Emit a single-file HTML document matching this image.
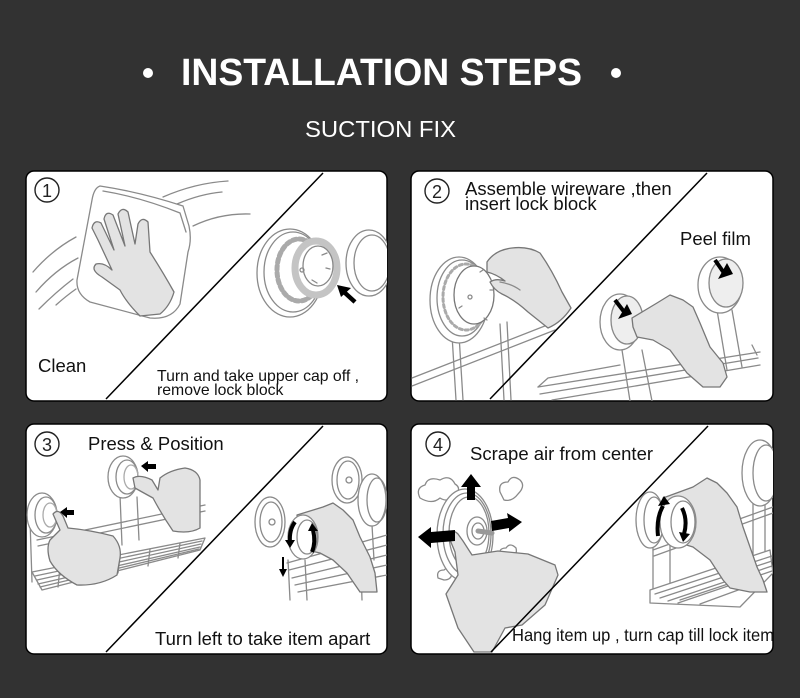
<!DOCTYPE html>
<html><head><meta charset="utf-8"><style>
html,body{margin:0;padding:0;background:#323232;}
svg{display:block}
</style></head><body>
<svg width="800" height="698" viewBox="0 0 800 698" xmlns="http://www.w3.org/2000/svg" font-family="'Liberation Sans', Arial, sans-serif">
<rect width="800" height="698" fill="#323232"/>
<circle cx="148" cy="73" r="5" fill="#fff"/>
<circle cx="616" cy="73" r="5" fill="#fff"/>
<text x="181" y="85" fill="#fff" font-size="38" font-weight="bold" textLength="401" lengthAdjust="spacingAndGlyphs">INSTALLATION STEPS</text>
<text x="305" y="137" fill="#fff" font-size="23" textLength="151" lengthAdjust="spacingAndGlyphs">SUCTION FIX</text>
<defs>
<clipPath id="c1"><rect x="26" y="171" width="361" height="230" rx="8"/></clipPath>
<clipPath id="c2"><rect x="411" y="171" width="362" height="230" rx="8"/></clipPath>
<clipPath id="c3"><rect x="26" y="424" width="361" height="230" rx="8"/></clipPath>
<clipPath id="c4"><rect x="411" y="424" width="362" height="230" rx="8"/></clipPath>
</defs>

<!-- Panels -->
<rect x="26" y="171" width="361" height="230" rx="8" fill="#fff" stroke="#000" stroke-width="1.5"/>
<rect x="411" y="171" width="362" height="230" rx="8" fill="#fff" stroke="#000" stroke-width="1.5"/>
<rect x="26" y="424" width="361" height="230" rx="8" fill="#fff" stroke="#000" stroke-width="1.5"/>
<rect x="411" y="424" width="362" height="230" rx="8" fill="#fff" stroke="#000" stroke-width="1.5"/>

<!-- ===== PANEL 1 ===== -->
<g clip-path="url(#c1)" fill="none" stroke="#8a8a8a" stroke-width="1.3" stroke-linecap="round" stroke-linejoin="round">
  <path d="M33 272 Q52 250 76 237"/>
  <path d="M36 292 Q55 270 78 258"/>
  <path d="M39 309 Q56 292 73 279"/>
  <path d="M56 305 Q66 296 76 289"/>
  <path d="M163 197 Q195 183 228 181"/>
  <path d="M177 204 Q200 194 222 192"/>
  <path d="M193 226 Q220 213 250 214"/>
  <!-- cloth -->
  <path d="M100 186 Q140 192 183 206 L189 226 Q192 240 188 252 L180 304 Q172 320 150 318 L90 302 Q76 294 77 280 L92 200 Q94 188 100 186 Z" fill="#fff"/>
  <path d="M103 191 Q140 197 180 213 L186 232"/>
  <!-- hand -->
  <path d="M92 228 Q94 219 101 223 L114 250 L104 219 Q106 210 113 215 L125 246 L118 214 Q122 206 128 212 L135 244 L138 224 Q142 216 148 222 L150 252 Q164 274 174 292 Q170 306 160 314 L140 316 Q126 302 120 290 L102 277 Q90 270 96 264 Q104 262 112 270 L98 240 Z" fill="#e3e3e3" stroke="#777"/>
  <!-- suction cup -->
  <ellipse cx="290" cy="273" rx="33" ry="44" fill="#fff"/>
  <ellipse cx="293" cy="272" rx="29" ry="40"/>
  <ellipse cx="299" cy="270" rx="22" ry="31" stroke="#aaa" stroke-width="5" stroke-dasharray="4 3"/>
  <ellipse cx="316" cy="268" rx="21" ry="27" fill="#fff" stroke="#c4c4c4" stroke-width="7"/>
  <ellipse cx="318" cy="266" rx="15" ry="20" fill="#fff" stroke="#888"/>
  <circle cx="302" cy="270" r="2"/>
  <path d="M322 255 l5 -2 M326 268 l4 1 M312 280 l5 3"/>
  <!-- cap -->
  <ellipse cx="369" cy="263" rx="23" ry="33" fill="#fff"/>
  <ellipse cx="372" cy="263" rx="18" ry="28"/>
</g>
<g clip-path="url(#c1)">
  <line x1="355" y1="302" x2="344" y2="292" stroke="#000" stroke-width="4.5"/>
  <polygon points="337,285 351,288 341,297" fill="#000"/>
  <line x1="323" y1="173" x2="106" y2="399" stroke="#000" stroke-width="1.5"/>
</g>
<circle cx="47" cy="190" r="12" fill="none" stroke="#222" stroke-width="1.4"/>
<text x="47" y="197" font-size="18" fill="#222" text-anchor="middle">1</text>
<text x="38" y="372" font-size="18.5" fill="#111">Clean</text>
<text x="157" y="381" font-size="15.8" fill="#111">Turn and take upper cap  off ,</text>
<text x="157" y="395" font-size="15.8" fill="#111">remove lock block</text>

<!-- ===== PANEL 2 ===== -->
<g clip-path="url(#c2)" fill="none" stroke="#8a8a8a" stroke-width="1.3" stroke-linecap="round" stroke-linejoin="round">
  <!-- left rack -->
  <path d="M412 378 L555 322 M412 386 L555 330"/>
  <path d="M452 335 L456 400 M459 335 L463 400 M500 324 L504 400 M507 322 L511 400"/>
  <!-- left cup -->
  <ellipse cx="459" cy="300" rx="29" ry="43" fill="#fff"/>
  <ellipse cx="462" cy="298" rx="25" ry="38"/>
  <ellipse cx="466" cy="297" rx="23" ry="33" stroke="#aaa" stroke-width="3" stroke-dasharray="3 3"/>
  <ellipse cx="474" cy="295" rx="20" ry="29" fill="#fff" stroke="#777"/>
  <circle cx="470" cy="297" r="2"/>
  <path d="M480 272 l3 -2 M490 290 l3 0 M484 318 l3 2 M462 306 l-3 2"/>
  <!-- left hand -->
  <path d="M487 262 Q495 250 512 248 Q528 246 540 253 Q552 270 562 292 L571 308 Q562 322 548 328 L528 312 Q515 300 502 294 Q494 290 490 282 Q496 278 505 281 Q496 274 487 272 Z" fill="#e3e3e3" stroke="#777"/>
  <path d="M500 282 Q512 284 520 290"/>
  <!-- right rack -->
  <path d="M538 387 L760 352 M540 394 L758 358"/>
  <path d="M552 400 L760 365"/>
  <path d="M538 387 L548 378 L620 365"/>
  <path d="M622 350 L630 401 M642 350 L652 401"/>
  <path d="M717 310 L727 370 M732 310 L742 367"/>
  <path d="M752 345 L757 355"/>
  <!-- right cups -->
  <ellipse cx="620" cy="322" rx="20" ry="28" fill="#fff"/>
  <ellipse cx="627" cy="320" rx="16" ry="24" fill="#eee" stroke="#888"/>
  <ellipse cx="720" cy="285" rx="22" ry="28" fill="#fff"/>
  <ellipse cx="726" cy="283" rx="17" ry="24" fill="#eee" stroke="#888"/>
  <!-- right hand -->
  <path d="M632 318 L657 303 L670 295 L683 300 L693 307 L700 323 L710 347 L723 363 L727 377 L720 387 L703 387 L687 373 L670 350 L653 340 L637 337 L633 327 Z" fill="#e3e3e3" stroke="#777"/>
</g>
<g clip-path="url(#c2)">
  <line x1="615" y1="300" x2="625" y2="313" stroke="#000" stroke-width="4"/>
  <polygon points="618,319 632,314 627,304" fill="#000"/>
  <line x1="715" y1="260" x2="724" y2="273" stroke="#000" stroke-width="4"/>
  <polygon points="718,279 733,274 727,263" fill="#000"/>
  <line x1="707" y1="173" x2="490" y2="399" stroke="#000" stroke-width="1.5"/>
</g>
<circle cx="437" cy="191" r="12" fill="none" stroke="#222" stroke-width="1.4"/>
<text x="437" y="198" font-size="18" fill="#222" text-anchor="middle">2</text>
<text x="465" y="195" font-size="18.5" fill="#111">Assemble wireware ,then</text>
<text x="465" y="210" font-size="18.5" fill="#111">insert lock block</text>
<text x="680" y="245" font-size="18.5" fill="#111">Peel film</text>

<!-- ===== PANEL 3 ===== -->
<g clip-path="url(#c3)" fill="none" stroke="#8a8a8a" stroke-width="1.3" stroke-linecap="round" stroke-linejoin="round">
  <!-- left rack -->
  <path d="M37 540 L205 505 M38 546 L205 511"/>
  <path d="M30 520 L32 582 M120 495 L122 545 M137 497 L139 540"/>
  <path d="M32 572 L205 538 L200 550 L42 590 Z" fill="#fff"/>
  <path d="M35 576 L202 541 M37 580 L201 544 M38 584 L200 547 M40 587 L199 549"/>
  <path d="M60 567 L58 587 M90 561 L88 580 M120 555 L118 573 M150 549 L148 566 M180 543 L178 558"/>
  <!-- cups -->
  <ellipse cx="123" cy="477" rx="15" ry="21" fill="#fff"/>
  <ellipse cx="127" cy="477" rx="11" ry="17"/>
  <ellipse cx="131" cy="477" rx="7" ry="12" stroke="#aaa"/>
  <ellipse cx="42" cy="515" rx="15" ry="22" fill="#fff"/>
  <ellipse cx="46" cy="515" rx="11" ry="18"/>
  <ellipse cx="50" cy="515" rx="7" ry="12" stroke="#aaa"/>
  <!-- upper hand -->
  <path d="M133 478 Q140 474 152 480 L158 490 L160 478 Q170 470 185 468 Q198 470 200 480 L200 528 Q190 534 173 531 Q162 515 153 498 Q142 492 135 488 Z" fill="#e3e3e3" stroke="#777"/>
  <!-- lower hand -->
  <path d="M53 514 Q58 508 63 516 L68 528 Q90 530 113 536 Q122 546 120 558 L117 575 Q100 586 77 585 Q58 575 50 561 Q46 548 50 540 Q56 534 60 530 Z" fill="#e3e3e3" stroke="#777"/>
  <!-- right side -->
  <ellipse cx="270" cy="522" rx="15" ry="25" fill="#fff"/>
  <ellipse cx="271" cy="522" rx="11" ry="20"/>
  <circle cx="272" cy="522" r="3"/>
  <ellipse cx="347" cy="480" rx="15" ry="23" fill="#fff"/>
  <ellipse cx="348" cy="480" rx="11" ry="19"/>
  <circle cx="349" cy="480" r="3"/>
  <path d="M287 563 L387 535 M289 570 L387 545 M292 578 L387 555 M295 585 L387 565 M298 592 L387 575"/>
  <path d="M288 560 L290 600 M305 560 L307 600 M360 540 L362 600 M372 525 L374 560"/>
  <ellipse cx="372" cy="500" rx="14" ry="26" fill="#fff"/>
  <ellipse cx="377" cy="500" rx="10" ry="22"/>
  <path d="M297 515 L323 507 L333 503 L343 510 L353 520 L360 537 L370 557 L375 573 L377 592 L360 592 L347 573 L333 560 L320 553 L307 550 L300 543 Z" fill="#e3e3e3" stroke="#777"/>
  <ellipse cx="303" cy="537" rx="15" ry="22" fill="#fff"/>
  <ellipse cx="307" cy="537" rx="10" ry="17"/>
</g>
<g clip-path="url(#c3)">
  <polygon points="141,466 148,461 148,464 156,464 156,469 148,469 148,472" fill="#000"/>
  <polygon points="60,512 67,507 67,510 74,510 74,515 67,515 67,518" fill="#000"/>
  <path d="M295 522 Q289 530 290 542" stroke="#000" stroke-width="4" fill="none"/>
  <polygon points="285,540 295,540 290,548" fill="#000"/>
  <path d="M312 552 Q316 542 313 530" stroke="#000" stroke-width="4" fill="none"/>
  <polygon points="308,531 318,531 312,523" fill="#000"/>
  <line x1="283" y1="557" x2="283" y2="570" stroke="#000" stroke-width="2"/>
  <polygon points="279,569 287,569 283,577" fill="#000"/>
  <line x1="323" y1="426" x2="106" y2="652" stroke="#000" stroke-width="1.5"/>
</g>
<circle cx="47" cy="444" r="12" fill="none" stroke="#222" stroke-width="1.4"/>
<text x="47" y="451" font-size="18" fill="#222" text-anchor="middle">3</text>
<text x="88" y="450" font-size="18.5" fill="#111">Press &amp; Position</text>
<text x="155" y="645" font-size="18.5" fill="#111">Turn left to take item apart</text>

<!-- ===== PANEL 4 ===== -->
<g clip-path="url(#c4)" fill="none" stroke="#8a8a8a" stroke-width="1.3" stroke-linecap="round" stroke-linejoin="round">
  <!-- clouds -->
  <path d="M420 498 Q415 488 425 485 Q428 476 440 480 Q450 474 455 484 Q462 488 455 496 Q448 503 440 498 Q432 505 420 498 Z"/>
  <path d="M500 492 Q498 482 508 482 Q512 474 520 480 Q526 486 518 494 Q512 502 504 500 Z"/>
  <path d="M500 556 Q498 548 506 548 Q510 542 516 548 Q518 556 510 558 Z"/>
  <path d="M438 578 Q436 570 444 570 Q448 566 452 572 Q452 580 444 580 Z"/>
  <!-- disc -->
  <ellipse cx="465" cy="535" rx="28" ry="46" fill="#fff"/>
  <ellipse cx="467" cy="534" rx="24" ry="41"/>
  <ellipse cx="469" cy="533" rx="20" ry="36"/>
  <ellipse cx="477" cy="531" rx="10" ry="14"/>
  <ellipse cx="478" cy="531" rx="6" ry="8"/>
  <line x1="478" y1="531" x2="492" y2="533" stroke="#999" stroke-width="5"/>
  <!-- hand -->
  <path d="M448 535 Q452 528 458 534 L463 541 L472 555 L498 551 L528 554 L555 565 L558 575 L545 605 L522 625 L505 628 L492 652 L474 652 L458 628 L446 594 L458 575 L455 552 Z" fill="#e3e3e3" stroke="#777"/>
  <!-- right side -->
  <path d="M653 550 L773 507 M654 556 L773 513"/>
  <path d="M653 500 L653 595 M670 500 L670 595 M753 470 L753 570 M765 470 L765 565"/>
  <path d="M650 590 L770 550 L773 573 L740 607 L650 603 Z" fill="#fff"/>
  <path d="M655 594 L772 556 M660 598 L772 561 M668 601 L772 566 M678 603 L772 571"/>
  <path d="M680 600 L740 580 M700 604 L760 582"/>
  <ellipse cx="760" cy="473" rx="18" ry="33" fill="#fff"/>
  <ellipse cx="766" cy="473" rx="13" ry="28"/>
  <ellipse cx="650" cy="520" rx="14" ry="28" fill="#fff"/>
  <ellipse cx="654" cy="520" rx="10" ry="23"/>
  <path d="M663 498 L693 487 L707 478 L717 483 L727 493 L737 507 L743 527 L750 547 L757 567 L763 580 L767 592 L750 592 L730 588 L723 580 L710 560 L693 547 L680 543 L670 540 L667 527 Z" fill="#e3e3e3" stroke="#777"/>
  <ellipse cx="678" cy="522" rx="18" ry="26" fill="#fff"/>
  <ellipse cx="683" cy="522" rx="12" ry="21"/>
</g>
<g clip-path="url(#c4)">
  <polygon points="471,474 481,487 475,487 475,500 467,500 467,487 461,487" fill="#000"/>
  <polygon points="418,537 431,527 431,532 455,530 455,541 431,543 431,548" fill="#000"/>
  <polygon points="522,522 509,532 509,528 492,531 491,521 508,518 507,513" fill="#000"/>
  <path d="M658 536 Q656 518 663 506" stroke="#000" stroke-width="4" fill="none"/>
  <polygon points="658,506 670,504 664,496" fill="#000"/>
  <path d="M682 508 Q688 520 684 534" stroke="#000" stroke-width="4" fill="none"/>
  <polygon points="679,532 690,534 683,542" fill="#000"/>
  <line x1="708" y1="426" x2="491" y2="652" stroke="#000" stroke-width="1.5"/>
  <text x="512" y="641" font-size="17.5" fill="#111" textLength="262" lengthAdjust="spacingAndGlyphs">Hang item up , turn cap till lock item</text>
</g>
<circle cx="438" cy="444" r="12" fill="none" stroke="#222" stroke-width="1.4"/>
<text x="438" y="451" font-size="18" fill="#222" text-anchor="middle">4</text>
<text x="470" y="460" font-size="18.5" fill="#111">Scrape air from center</text>
</svg>
</body></html>
